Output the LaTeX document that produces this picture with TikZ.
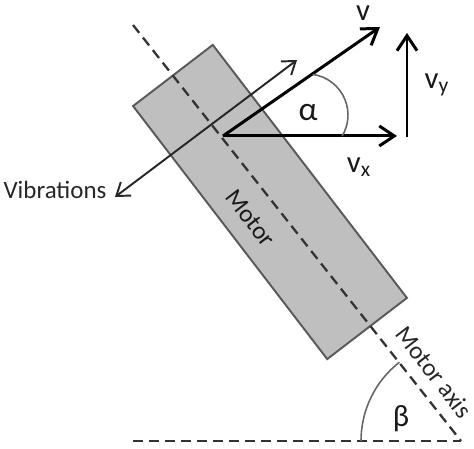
\documentclass[tikz,border=0pt]{standalone}
\usepackage{fontspec}
\setmainfont{Carlito}
\usetikzlibrary{arrows.meta,positioning}

\begin{document}
\begin{tikzpicture}[x=0.02cm, y=0.02cm]
	\tikzstyle{Body}	= [rectangle, draw=black!65, fill=black!25, line width=1.1pt, inner sep=0pt, outer sep=0pt]
	\tikzstyle{DashLine}	= [black!80, line width=1.3pt, dash pattern=on 5.7pt off 3.4pt]
	\tikzstyle{Vec}		= [black, line width=1.7pt, -{Straight Barb[length=3mm, width=4mm]}]
	\tikzstyle{Vib}		= [black!85, line width=1.1pt, {Straight Barb[length=2.4mm, width=3.4mm]}-{Straight Barb[length=2.4mm, width=3.4mm]}]
	\tikzstyle{AngleArc}	= [black!60, line width=0.9pt]
	\tikzstyle{Txt}		= [inner sep=0pt, text=black!85, font=\fontsize{14.2pt}{17pt}\selectfont]
	\tikzstyle{Lbl}		= [inner sep=0pt, text=black!90, font=\fontsize{17.5pt}{20pt}\selectfont]

	\useasboundingbox (0,0) rectangle (474,449);

	% motor and its axis
	\node (motor) at (270,247) [Body, minimum width=6.38cm, minimum height=2.01cm, rotate=-52.5] {};
	\coordinate (axtop) at (133,424);
	\coordinate (axbot) at (461,8);
	\coordinate (hleft) at (133,8);
	\draw [-] (axtop) to (axbot) [DashLine];
	\draw [-] (hleft) to (axbot) [DashLine];

	% velocity and components
	\coordinate (o) at (223,313);
	\coordinate (vtip) at (380,422);
	\coordinate (vxtip) at (397,313);
	\coordinate (vybot) at (407,312);
	\coordinate (vytop) at (407,416);
	\draw (o) to (vtip) [Vec];
	\draw (o) to (vxtip) [Vec];
	\draw (vybot) to (vytop) [Vec];

	% vibrations, across the axis
	\coordinate (vibA) at (115,252);
	\coordinate (vibB) at (297,389);
	\draw (vibA) to (vibB) [Vib];

	% angles
	\coordinate (acen) at (307,334);
	\draw [AngleArc] ([shift={(82:41)}]acen) arc (82:-31:41);
	\draw [AngleArc] ([shift={(180:100)}]axbot) arc (180:128:100);

	\node (lv) at (363,436) [Lbl] {v};
	\node (lvx) at (359,282) [Lbl] {v\textsubscript{x}};
	\node (lvy) at (437,364) [Lbl] {v\textsubscript{y}};
	\node (lalpha) at (308,336) [Lbl, font=\fontsize{19pt}{22pt}\selectfont] {α};
	\node (lbeta) at (401,30) [Lbl] {β};
	\node (lvib) at (55,259) [Txt] {Vibrations};
	\node (lmotor) at (250,231) [Txt, text=black!90, rotate=-52.5] {Motor};
	\node (laxis) at (434,77) [Txt, rotate=-52.5] {Motor axis};
\end{tikzpicture}
\end{document}
